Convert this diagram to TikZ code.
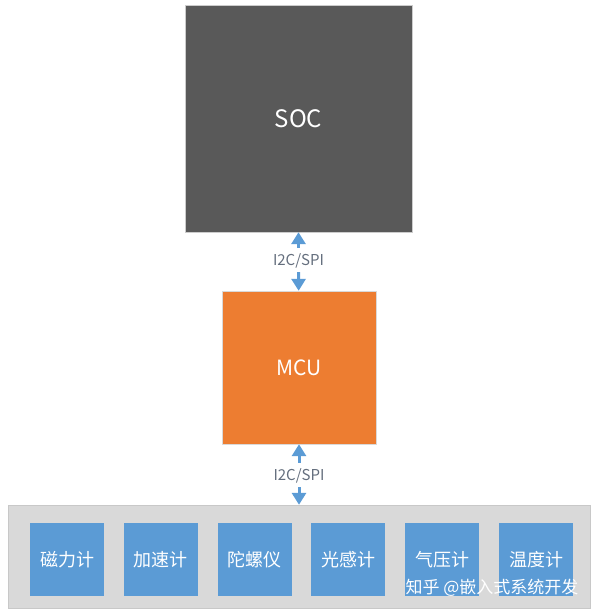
\documentclass[tikz,border=0pt]{standalone}
\usepackage{fontspec}
\newfontfamily\cjk{Noto Sans CJK SC}
\usepackage{tikz}
\usetikzlibrary{
  arrows.meta,
  positioning
}
\definecolor{socgray}{RGB}{89,89,89}
\definecolor{mcuorange}{RGB}{237,125,49}
\definecolor{sensorblue}{RGB}{91,155,213}
\definecolor{bargray}{RGB}{217,217,217}
\definecolor{bargrayedge}{RGB}{200,200,200}
\definecolor{labelgray}{RGB}{100,110,125}
\tikzset{
  socBox/.style={
    rectangle,
    draw=black!20,
    fill=socgray,
    text=white,
    minimum width=227pt,
    minimum height=227pt,
    font=\cjk\fontsize{24}{28}\selectfont
  },
  mcuBox/.style={
    rectangle,
    draw=black!15,
    fill=mcuorange,
    text=white,
    minimum width=154pt,
    minimum height=153pt,
    font=\cjk\fontsize{21}{25}\selectfont
  },
  sensorBar/.style={
    rectangle,
    draw=bargrayedge,
    fill=bargray,
    minimum width=582pt,
    minimum height=103pt
  },
  sensorBox/.style={
    rectangle,
    fill=sensorblue,
    text=white,
    minimum width=74pt,
    minimum height=73pt,
    inner sep=0pt,
    font=\cjk\fontsize{18}{21}\selectfont
  },
  busLabel/.style={
    text=labelgray,
    text height=10pt,
    text depth=0pt,
    inner xsep=2pt,
    inner ysep=7pt,
    font=\cjk\fontsize{15}{17}\selectfont
  },
  busArrow/.style={
    -{Triangle[length=12pt,width=14pt]},
    line width=3pt,
    draw=sensorblue
  },
  watermark/.style={
    text=white,
    font=\cjk\fontsize{17}{20}\selectfont
  }
}

\begin{document}
\begin{tikzpicture}[x=1pt,y=-1pt]
  \useasboundingbox (0,0) rectangle (597,614);

  \node[socBox] (soc) at (298.5,118.5) {SOC};
  \node[mcuBox] (mcu) at (299,367.5) {MCU};

  \node[busLabel] (bus1) at (298.5,260) {I2C/SPI};
  \node[busLabel] (bus2) at (299,475) {I2C/SPI};

  \node[sensorBar] (sensorbar) at (299,556.5) {};

  \node[sensorBox] (magnet) at (67,559.5) {磁力计};
  \node[sensorBox, right=19.4pt of magnet] (accel) {加速计};
  \node[sensorBox, right=19.4pt of accel] (gyro) {陀螺仪};
  \node[sensorBox, right=19.4pt of gyro] (light) {光感计};
  \node[sensorBox, right=19.4pt of light] (baro) {气压计};
  \node[sensorBox, right=19.4pt of baro] (thermo) {温度计};

  \draw[busArrow] (bus1) -- (soc);
  \draw[busArrow] (bus1) -- (mcu);
  \draw[busArrow] (bus2) -- (mcu);
  \draw[busArrow] (bus2) -- (sensorbar);

  \node[watermark] (mark) at (492,588) {知乎 @嵌入式系统开发};
\end{tikzpicture}
\end{document}
